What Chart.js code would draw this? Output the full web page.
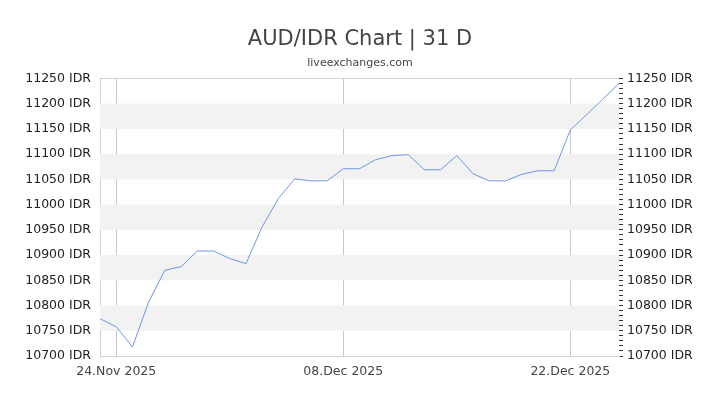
<!DOCTYPE html>
<html>
<head>
<meta charset="utf-8">
<script src="https://cdn.jsdelivr.net/npm/chart.js@4.4.1/dist/chart.umd.min.js"></script>
<style>
html,body{margin:0;padding:0;background:#fff;}
#wrap{width:720px;height:405px;}
</style>
</head>
<body>
<div id="wrap"><canvas id="c" width="720" height="405"></canvas></div>
<script>
const dates = ["23.Nov 2025","24.Nov 2025","25.Nov 2025","26.Nov 2025","27.Nov 2025","28.Nov 2025","29.Nov 2025","30.Nov 2025",
  "01.Dec 2025","02.Dec 2025","03.Dec 2025","04.Dec 2025","05.Dec 2025","06.Dec 2025","07.Dec 2025","08.Dec 2025",
  "09.Dec 2025","10.Dec 2025","11.Dec 2025","12.Dec 2025","13.Dec 2025","14.Dec 2025","15.Dec 2025","16.Dec 2025",
  "17.Dec 2025","18.Dec 2025","19.Dec 2025","20.Dec 2025","21.Dec 2025","22.Dec 2025","23.Dec 2025","24.Dec 2025","25.Dec 2025"];
const rates = [10774,10758,10718,10807,10870,10877,10908,10908,10893,10883,10956,11012,11051,11047,11047,11071,
  11071,11089,11097,11099,11069,11069,11097,11061,11047,11047,11060,11067,11067,11148,11178,11209,11240];
const shownDates = ["24.Nov 2025","08.Dec 2025","22.Dec 2025"];
const yTicks = [10700,10750,10800,10850,10900,10950,11000,11050,11100,11150,11200,11250];
const yMin = 10700, yMax = 11250, minorStep = 10;

const FONT = "'DejaVu Sans', sans-serif";

const bandsPlugin = {
  id: 'bands',
  beforeDatasetsDraw(chart) {
    const {ctx, chartArea} = chart;
    const y = chart.scales.y;
    ctx.save();
    ctx.fillStyle = '#f2f2f2';
    for (let i = 1; i < yTicks.length - 1; i += 2) {
      const top = y.getPixelForValue(yTicks[i + 1]);
      const bot = y.getPixelForValue(yTicks[i]);
      ctx.fillRect(chartArea.left, top, chartArea.right - chartArea.left, bot - top);
    }
    ctx.strokeStyle = '#d0d0d0';
    ctx.lineWidth = 1;
    ctx.beginPath();
    ctx.moveTo(chartArea.left, Math.round(chartArea.top) + 0.5);
    ctx.lineTo(chartArea.right, Math.round(chartArea.top) + 0.5);
    ctx.stroke();
    ctx.restore();
  }
};

new Chart(document.getElementById('c'), {
  type: 'line',
  data: {
    labels: dates,
    datasets: [{
      data: rates,
      borderColor: '#6f97e8',
      borderWidth: 1,
      pointRadius: 0,
      tension: 0,
      fill: false
    }]
  },
  options: {
    responsive: false,
    animation: false,
    devicePixelRatio: 1,
    layout: {padding: {left: 0, right: 0, top: 0, bottom: 0}},
    plugins: {
      legend: {display: false},
      tooltip: {enabled: false},
      title: {
        display: true,
        text: 'AUD/IDR Chart | 31 D',
        color: '#444',
        font: {family: FONT, size: 21, weight: 'normal'},
        padding: {top: 27, bottom: 0}
      },
      subtitle: {
        display: true,
        text: 'liveexchanges.com',
        color: '#444',
        font: {family: FONT, size: 11, weight: 'normal'},
        padding: {top: 4, bottom: 9}
      }
    },
    scales: {
      x: {
        type: 'category',
        offset: false,
        afterFit(s) { s.height = 49; },
        border: {display: true, color: '#d0d0d0'},
        grid: {
          drawTicks: false,
          color(ctx) {
            const lbl = dates[ctx.index];
            return shownDates.includes(lbl) ? '#c8c8c8' : 'rgba(0,0,0,0)';
          }
        },
        ticks: {
          autoSkip: false,
          maxRotation: 0,
          minRotation: 0,
          padding: 8,
          color: '#444',
          font: {family: FONT, size: 12.5},
          callback(v, i) { return shownDates.includes(dates[i]) ? dates[i] : ''; }
        }
      },
      y: {
        position: 'left',
        min: yMin,
        max: yMax,
        afterFit(s) { s.width = 100; },
        afterBuildTicks(s) { s.ticks = yTicks.map(v => ({value: v})); },
        border: {display: true, color: '#d0d0d0'},
        grid: {display: false, drawTicks: false},
        ticks: {
          padding: 9,
          color: '#222',
          font: {family: FONT, size: 12.5},
          callback(v) { return v + ' IDR'; }
        }
      },
      y2: {
        position: 'right',
        min: yMin,
        max: yMax,
        afterFit(s) { s.width = 101; },
        afterBuildTicks(s) {
          const t = [];
          for (let v = yMin; v <= yMax; v += minorStep) t.push({value: v});
          s.ticks = t;
        },
        border: {display: false},
        grid: {drawOnChartArea: false, drawTicks: true, tickLength: 4, color: '#333', lineWidth: 1},
        ticks: {
          autoSkip: false,
          padding: 4,
          color: '#222',
          font: {family: FONT, size: 12.5},
          callback(v) { return yTicks.includes(v) ? v + ' IDR' : ''; }
        }
      }
    }
  },
  plugins: [bandsPlugin]
});
</script>
</body>
</html>
